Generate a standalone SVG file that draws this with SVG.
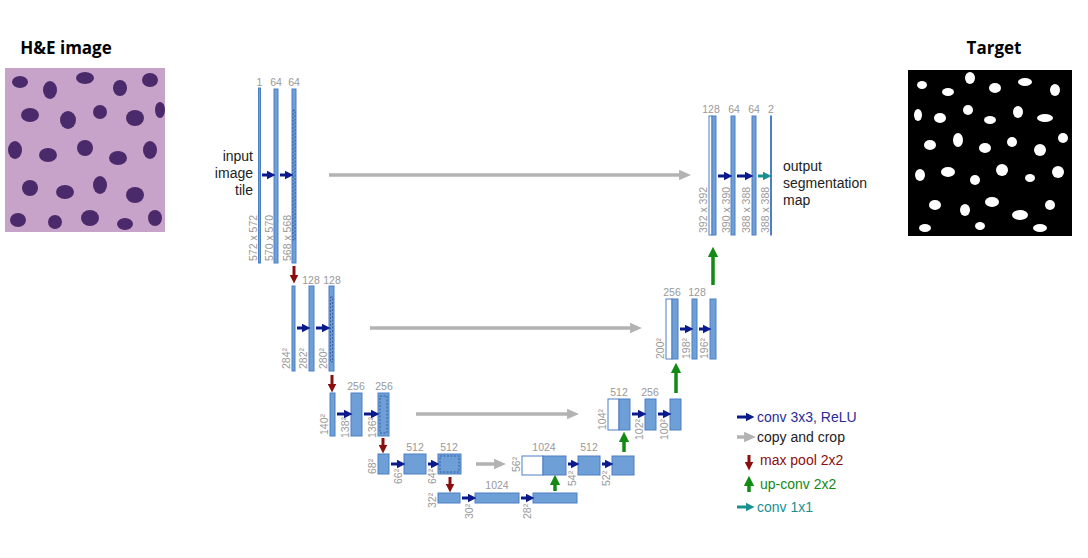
<svg xmlns="http://www.w3.org/2000/svg" width="1088" height="558" viewBox="0 0 1088 558">
<style>
.b{fill:#6e9fd6;stroke:#4c7fc4;stroke-width:1}
.w{fill:#fff;stroke:#4c7fc4;stroke-width:1}
.d{fill:none;stroke:#2a4f99;stroke-width:0.8;stroke-dasharray:2,1.5}
.n{font-family:"Liberation Sans",Arial,sans-serif;font-size:10.5px;fill:#999}
.t{font-family:"Liberation Sans",Arial,sans-serif;font-size:14px;fill:#222}
.h{font-family:"Open Sans","Liberation Sans",sans-serif;font-size:17px;font-weight:bold;fill:#000}
.lg{font-family:"Liberation Sans",Arial,sans-serif;font-size:14px}
.cv{stroke:#0a1a8c;stroke-width:3;marker-end:url(#mc)}
.cp{stroke:#b3b3b3;stroke-width:3.5;marker-end:url(#mg)}
.mp{stroke:#8b0e0e;stroke-width:3;marker-end:url(#mr)}
.up{stroke:#138a13;stroke-width:3.5;marker-end:url(#mu)}
.c1{stroke:#1a9090;stroke-width:3;marker-end:url(#mt)}
</style>
<defs>
<marker id="mc" markerWidth="3" markerHeight="3" refX="1.5" refY="1.5" orient="auto"><path d="M0,0L3,1.5L0,3z" fill="#0a1a8c"/></marker>
<marker id="mg" markerWidth="3.4" markerHeight="3" refX="1.7" refY="1.5" orient="auto"><path d="M0,0L3.4,1.5L0,3z" fill="#b3b3b3"/></marker>
<marker id="mr" markerWidth="3" markerHeight="3" refX="1.5" refY="1.5" orient="auto"><path d="M0,0L3,1.5L0,3z" fill="#8b0e0e"/></marker>
<marker id="mu" markerWidth="3" markerHeight="3" refX="1.5" refY="1.5" orient="auto"><path d="M0,0L3,1.5L0,3z" fill="#138a13"/></marker>
<marker id="mt" markerWidth="3" markerHeight="3" refX="1.5" refY="1.5" orient="auto"><path d="M0,0L3,1.5L0,3z" fill="#1a9090"/></marker>
</defs>
<rect width="1088" height="558" fill="#fff"/>

<g id="he">
<text class="h" x="66" y="54" text-anchor="middle">H&amp;E image</text>
<rect x="5" y="68" width="160" height="164" fill="#c8a3c9"/>
<g fill="#4a2a6a">
<ellipse cx="20" cy="82" rx="8" ry="6"/><ellipse cx="50" cy="90" rx="7" ry="9"/><ellipse cx="85" cy="78" rx="9" ry="6"/><ellipse cx="120" cy="88" rx="7" ry="8"/><ellipse cx="150" cy="80" rx="8" ry="7"/>
<ellipse cx="30" cy="115" rx="9" ry="7"/><ellipse cx="68" cy="120" rx="8" ry="9"/><ellipse cx="100" cy="112" rx="7" ry="7"/><ellipse cx="135" cy="118" rx="9" ry="8"/><ellipse cx="160" cy="110" rx="5" ry="8"/>
<ellipse cx="15" cy="150" rx="7" ry="9"/><ellipse cx="48" cy="155" rx="9" ry="7"/><ellipse cx="85" cy="148" rx="8" ry="8"/><ellipse cx="118" cy="158" rx="9" ry="7"/><ellipse cx="150" cy="150" rx="7" ry="9"/>
<ellipse cx="30" cy="188" rx="8" ry="8"/><ellipse cx="65" cy="192" rx="9" ry="7"/><ellipse cx="100" cy="185" rx="7" ry="9"/><ellipse cx="135" cy="195" rx="9" ry="8"/>
<ellipse cx="18" cy="220" rx="8" ry="7"/><ellipse cx="55" cy="222" rx="7" ry="7"/><ellipse cx="90" cy="218" rx="9" ry="8"/><ellipse cx="125" cy="224" rx="8" ry="6"/><ellipse cx="155" cy="218" rx="7" ry="8"/>
</g>
</g>

<g id="target">
<text class="h" x="994" y="54" text-anchor="middle">Target</text>
<rect x="908" y="70" width="164" height="166" fill="#000"/>
<g fill="#fff">
<ellipse cx="922" cy="85" rx="5" ry="4"/><ellipse cx="948" cy="92" rx="6" ry="4"/><ellipse cx="970" cy="78" rx="5" ry="6"/><ellipse cx="995" cy="88" rx="6" ry="5"/><ellipse cx="1025" cy="82" rx="7" ry="4"/><ellipse cx="1055" cy="90" rx="5" ry="6"/>
<ellipse cx="918" cy="115" rx="4" ry="6"/><ellipse cx="940" cy="118" rx="6" ry="5"/><ellipse cx="968" cy="110" rx="5" ry="5"/><ellipse cx="990" cy="120" rx="6" ry="4"/><ellipse cx="1018" cy="112" rx="5" ry="6"/><ellipse cx="1045" cy="118" rx="8" ry="4"/>
<ellipse cx="930" cy="145" rx="6" ry="5"/><ellipse cx="958" cy="140" rx="5" ry="7"/><ellipse cx="985" cy="148" rx="6" ry="5"/><ellipse cx="1012" cy="142" rx="5" ry="5"/><ellipse cx="1040" cy="150" rx="6" ry="6"/><ellipse cx="1063" cy="138" rx="5" ry="5"/>
<ellipse cx="920" cy="175" rx="5" ry="6"/><ellipse cx="948" cy="172" rx="7" ry="5"/><ellipse cx="975" cy="180" rx="5" ry="5"/><ellipse cx="1002" cy="170" rx="6" ry="6"/><ellipse cx="1030" cy="178" rx="5" ry="4"/><ellipse cx="1058" cy="172" rx="6" ry="6"/>
<ellipse cx="935" cy="205" rx="6" ry="5"/><ellipse cx="965" cy="210" rx="5" ry="6"/><ellipse cx="992" cy="202" rx="7" ry="5"/><ellipse cx="1020" cy="215" rx="8" ry="5"/><ellipse cx="1050" cy="205" rx="5" ry="5"/>
<ellipse cx="925" cy="228" rx="6" ry="4"/><ellipse cx="980" cy="226" rx="5" ry="4"/><ellipse cx="1040" cy="228" rx="7" ry="4"/>
</g>
</g>

<g id="level1-left">
<rect class="b" x="258.5" y="88" width="2" height="175"/>
<rect class="b" x="274" y="89" width="4" height="174"/>
<rect class="b" x="292" y="89" width="4" height="174"/>
<rect class="d" x="293" y="110" width="2" height="130"/>
<text class="n" x="259.5" y="86" text-anchor="middle">1</text>
<text class="n" x="276" y="86" text-anchor="middle">64</text>
<text class="n" x="294" y="86" text-anchor="middle">64</text>
<text class="n" transform="translate(257,261) rotate(-90)">572 x 572</text>
<text class="n" transform="translate(273,261) rotate(-90)">570 x 570</text>
<text class="n" transform="translate(291,261) rotate(-90)">568 x 568</text>
<text class="t" x="253" y="161" text-anchor="end">input</text>
<text class="t" x="253" y="178" text-anchor="end">image</text>
<text class="t" x="253" y="195" text-anchor="end">tile</text>
</g>
<g id="level2-left">
<rect class="b" x="292" y="286" width="3" height="85"/>
<rect class="b" x="309" y="286" width="5" height="85"/>
<rect class="b" x="329" y="286" width="5" height="85"/>
<rect class="d" x="330.5" y="297" width="2" height="65"/>
<text class="n" x="311" y="284" text-anchor="middle">128</text>
<text class="n" x="332" y="284" text-anchor="middle">128</text>
<text class="n" transform="translate(290,369) rotate(-90)">284²</text>
<text class="n" transform="translate(307,369) rotate(-90)">282²</text>
<text class="n" transform="translate(327,369) rotate(-90)">280²</text>
</g>
<g id="level3-left">
<rect class="b" x="330" y="393" width="5" height="43"/>
<rect class="b" x="351" y="393" width="11" height="43"/>
<rect class="b" x="378" y="393" width="11" height="43"/>
<rect class="d" x="380" y="396" width="7" height="37"/>
<text class="n" x="356" y="390" text-anchor="middle">256</text>
<text class="n" x="384" y="390" text-anchor="middle">256</text>
<text class="n" transform="translate(328,435) rotate(-90)">140²</text>
<text class="n" transform="translate(349,438) rotate(-90)">138²</text>
<text class="n" transform="translate(376,438) rotate(-90)">136²</text>
</g>
<g id="level4-left">
<rect class="b" x="378" y="454" width="11" height="20"/>
<rect class="b" x="404" y="454" width="22" height="20"/>
<rect class="b" x="438" y="454" width="23" height="20"/>
<rect class="d" x="440" y="456" width="19" height="16"/>
<text class="n" x="415" y="451" text-anchor="middle">512</text>
<text class="n" x="449" y="451" text-anchor="middle">512</text>
<text class="n" transform="translate(376,474) rotate(-90)">68²</text>
<text class="n" transform="translate(402,484) rotate(-90)">66²</text>
<text class="n" transform="translate(436,484) rotate(-90)">64²</text>
</g>
<g id="level5">
<rect class="b" x="438" y="493" width="22" height="10"/>
<rect class="b" x="475" y="493" width="44" height="10"/>
<rect class="b" x="533" y="493" width="44" height="10"/>
<text class="n" x="497" y="489" text-anchor="middle">1024</text>
<text class="n" transform="translate(436,508) rotate(-90)">32²</text>
<text class="n" transform="translate(473,519) rotate(-90)">30²</text>
<text class="n" transform="translate(531,519) rotate(-90)">28²</text>
</g>
<g id="level4-right">
<rect class="w" x="522" y="456" width="21" height="19"/>
<rect class="b" x="543" y="456" width="23" height="19"/>
<rect class="b" x="578" y="456" width="22" height="19"/>
<rect class="b" x="612" y="456" width="22" height="19"/>
<text class="n" x="544" y="451" text-anchor="middle">1024</text>
<text class="n" x="589" y="451" text-anchor="middle">512</text>
<text class="n" transform="translate(520,472) rotate(-90)">56²</text>
<text class="n" transform="translate(576,486) rotate(-90)">54²</text>
<text class="n" transform="translate(610,486) rotate(-90)">52²</text>
</g>
<g id="level3-right">
<rect class="w" x="608" y="399" width="11" height="31"/>
<rect class="b" x="619" y="399" width="11" height="31"/>
<rect class="b" x="645" y="399" width="11" height="31"/>
<rect class="b" x="670" y="399" width="11" height="31"/>
<text class="n" x="619" y="396" text-anchor="middle">512</text>
<text class="n" x="650" y="396" text-anchor="middle">256</text>
<text class="n" transform="translate(606,430) rotate(-90)">104²</text>
<text class="n" transform="translate(643,440) rotate(-90)">102²</text>
<text class="n" transform="translate(668,440) rotate(-90)">100²</text>
</g>
<g id="level2-right">
<rect class="w" x="666" y="299" width="6" height="60"/>
<rect class="b" x="672" y="299" width="6" height="60"/>
<rect class="b" x="692" y="299" width="5" height="60"/>
<rect class="b" x="710" y="299" width="6" height="60"/>
<text class="n" x="672" y="296" text-anchor="middle">256</text>
<text class="n" x="697" y="296" text-anchor="middle">128</text>
<text class="n" transform="translate(664,359) rotate(-90)">200²</text>
<text class="n" transform="translate(690,359) rotate(-90)">198²</text>
<text class="n" transform="translate(708,359) rotate(-90)">196²</text>
</g>
<g id="level1-right">
<rect class="w" x="709" y="116" width="3" height="119"/>
<rect class="b" x="712" y="116" width="4" height="119"/>
<rect class="b" x="731" y="116" width="4" height="119"/>
<rect class="b" x="752" y="116" width="4" height="119"/>
<rect class="b" x="770.5" y="116" width="1" height="119"/>
<text class="n" x="711" y="113" text-anchor="middle">128</text>
<text class="n" x="734" y="113" text-anchor="middle">64</text>
<text class="n" x="754" y="113" text-anchor="middle">64</text>
<text class="n" x="771" y="113" text-anchor="middle">2</text>
<text class="n" transform="translate(707,233) rotate(-90)">392 x 392</text>
<text class="n" transform="translate(730,233) rotate(-90)">390 x 390</text>
<text class="n" transform="translate(750,233) rotate(-90)">388 x 388</text>
<text class="n" transform="translate(769,233) rotate(-90)">388 x 388</text>
<text class="t" x="783" y="171">output</text>
<text class="t" x="783" y="188">segmentation</text>
<text class="t" x="783" y="205">map</text>
</g>

<g id="connectors">
<line class="cv" x1="262" y1="175" x2="271" y2="175"/>
<line class="cv" x1="280" y1="175" x2="289" y2="175"/>
<line class="cp" x1="329" y1="175" x2="685" y2="175"/>
<line class="mp" x1="294" y1="266" x2="294" y2="279"/>
<line class="cv" x1="297" y1="328" x2="306" y2="328"/>
<line class="cv" x1="316" y1="328" x2="326" y2="328"/>
<line class="cp" x1="370" y1="328" x2="636" y2="328"/>
<line class="mp" x1="332" y1="375" x2="332" y2="388"/>
<line class="cv" x1="337" y1="414" x2="348" y2="414"/>
<line class="cv" x1="364" y1="414" x2="375" y2="414"/>
<line class="cp" x1="416" y1="414" x2="573" y2="414"/>
<line class="mp" x1="383" y1="438" x2="383" y2="449"/>
<line class="cv" x1="391" y1="464" x2="401" y2="464"/>
<line class="cv" x1="428" y1="464" x2="435" y2="464"/>
<line class="cp" x1="476" y1="464" x2="500" y2="464"/>
<line class="mp" x1="450" y1="477" x2="450" y2="488"/>
<line class="cv" x1="462" y1="498" x2="472" y2="498"/>
<line class="cv" x1="521" y1="498" x2="530" y2="498"/>
<line class="up" x1="555" y1="491" x2="555" y2="480"/>
<line class="cv" x1="568" y1="464" x2="575" y2="464"/>
<line class="cv" x1="602" y1="464" x2="609" y2="464"/>
<line class="up" x1="624" y1="452" x2="624" y2="437"/>
<line class="cv" x1="632" y1="414" x2="642" y2="414"/>
<line class="cv" x1="658" y1="414" x2="667" y2="414"/>
<line class="up" x1="676" y1="393" x2="676" y2="368"/>
<line class="cv" x1="680" y1="329" x2="689" y2="329"/>
<line class="cv" x1="699" y1="329" x2="707" y2="329"/>
<line class="up" x1="713" y1="285" x2="713" y2="252"/>
<line class="cv" x1="718" y1="176" x2="728" y2="176"/>
<line class="cv" x1="737" y1="176" x2="749" y2="176"/>
<line class="c1" x1="758" y1="176" x2="767" y2="176"/>
</g>

<g id="legend">
<line class="cv" x1="737" y1="417" x2="750" y2="417"/>
<text class="lg" x="757" y="422" fill="#2a2a9a">conv 3x3, ReLU</text>
<line class="cp" x1="737" y1="437" x2="750" y2="437"/>
<text class="lg" x="757" y="442" fill="#222">copy and crop</text>
<line class="mp" x1="749" y1="455" x2="749" y2="466"/>
<text class="lg" x="760" y="465" fill="#8b0e0e">max pool 2x2</text>
<line class="up" x1="749" y1="492" x2="749" y2="481"/>
<text class="lg" x="760" y="489" fill="#138a13">up-conv 2x2</text>
<line class="c1" x1="737" y1="507" x2="750" y2="507"/>
<text class="lg" x="757" y="512" fill="#1a9090">conv 1x1</text>
</g>
</svg>
